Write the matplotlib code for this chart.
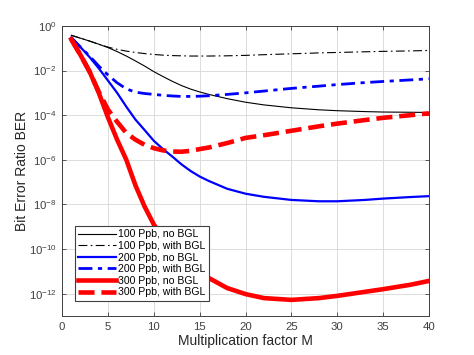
import numpy as np
import matplotlib.pyplot as plt

plt.rcParams['font.family'] = ['Liberation Sans', 'DejaVu Sans']

# multiplication factor M
m = [1, 2, 3, 4, 5, 6, 7, 8, 9, 10, 11, 12, 13, 14, 15, 16, 18, 20, 22, 25, 28, 30, 33, 35, 38, 40]

# log10(BER)
log_100_no = [-0.42, -0.55, -0.68, -0.82, -0.97, -1.15, -1.35, -1.57, -1.8, -2.05, -2.27, -2.48, -2.67,
              -2.83, -2.96, -3.07, -3.26, -3.42, -3.54, -3.67, -3.76, -3.8, -3.84, -3.86, -3.87, -3.88]
log_100_bgl = [-0.42, -0.55, -0.68, -0.82, -0.95, -1.05, -1.13, -1.19, -1.24, -1.28, -1.31, -1.33, -1.34,
               -1.35, -1.35, -1.35, -1.34, -1.32, -1.29, -1.25, -1.21, -1.19, -1.16, -1.14, -1.12, -1.1]
log_200_no = [-0.52, -0.95, -1.4, -1.9, -2.45, -3.0, -3.62, -4.2, -4.67, -5.15, -5.52, -5.85, -6.2,
              -6.5, -6.75, -6.95, -7.3, -7.52, -7.66, -7.8, -7.86, -7.86, -7.8, -7.74, -7.67, -7.63]
log_200_bgl = [-0.52, -0.95, -1.35, -1.8, -2.2, -2.55, -2.82, -2.97, -3.03, -3.07, -3.11, -3.14, -3.16,
               -3.16, -3.15, -3.13, -3.07, -3.0, -2.92, -2.8, -2.7, -2.63, -2.54, -2.49, -2.42, -2.37]
log_300_no = [-0.6, -1.3, -2.05, -3.0, -4.1, -5.1, -6.0, -7.15, -8.1, -8.9, -9.5, -9.95, -10.4,
              -10.75, -11.05, -11.3, -11.75, -12.02, -12.2, -12.28, -12.2, -12.1, -11.92, -11.8, -11.6, -11.43]
log_300_bgl = [-0.6, -1.3, -2.05, -2.95, -3.75, -4.3, -4.8, -5.1, -5.33, -5.48, -5.58, -5.63, -5.64,
               -5.6, -5.52, -5.45, -5.25, -5.02, -4.9, -4.7, -4.5, -4.38, -4.22, -4.12, -4.0, -3.92]

labels = ['100 Ppb, no BGL', '100 Ppb, with BGL', '200 Ppb, no BGL',
          '200 Ppb, with BGL', '300 Ppb, no BGL', '300 Ppb, with BGL']

fig = plt.figure(figsize=(4.74, 3.55), dpi=100)
ax = fig.add_axes([0.131, 0.110, 0.774, 0.817])

ax.plot(m, 10.0**np.array(log_100_no), color='k', lw=0.8, ls='-', label=labels[0])
ax.plot(m, 10.0**np.array(log_100_bgl), color='k', lw=0.8, ls=(0, (8, 3, 1.5, 3)), label=labels[1])
ax.plot(m, 10.0**np.array(log_200_no), color='#0000ff', lw=1.6, ls='-', label=labels[2])
ax.plot(m, 10.0**np.array(log_200_bgl), color='#0000ff', lw=2.0, ls=(0, (5, 2, 1.5, 2)), label=labels[3])
ax.plot(m, 10.0**np.array(log_300_no), color='#ff0000', lw=3.3, ls='-', label=labels[4])
ax.plot(m, 10.0**np.array(log_300_bgl), color='#ff0000', lw=3.3, ls=(0, (3.5, 1.5)), label=labels[5])

ax.set_yscale('log')
ax.set_xlim(0, 40)
ax.set_ylim(1e-13, 1)
ax.set_xticks([0, 5, 10, 15, 20, 25, 30, 35, 40])
ax.set_yticks([1e0, 1e-2, 1e-4, 1e-6, 1e-8, 1e-10, 1e-12])
ax.minorticks_off()
ax.grid(True, color='#dcdcdc', lw=0.7)
ax.set_axisbelow(True)

for s in ax.spines.values():
    s.set_color('#404040')
    s.set_linewidth(0.7)
ax.tick_params(direction='in', top=True, right=True, length=3, width=0.6,
               colors='#404040', labelsize=8.2, pad=4)

ax.set_xlabel('Multiplication factor M', fontsize=10, color='#262626', labelpad=2)
ax.set_ylabel('Bit Error Ratio BER', fontsize=10, color='#262626', labelpad=0)

leg = ax.legend(loc='lower left', bbox_to_anchor=(0.02, 0.035), fontsize=7.6,
                handlelength=3.6, handletextpad=0.2, labelspacing=0.15,
                borderpad=0.3, fancybox=False, framealpha=1, edgecolor='#404040')
leg.get_frame().set_linewidth(0.8)

fig.savefig('out.png', dpi=100)
